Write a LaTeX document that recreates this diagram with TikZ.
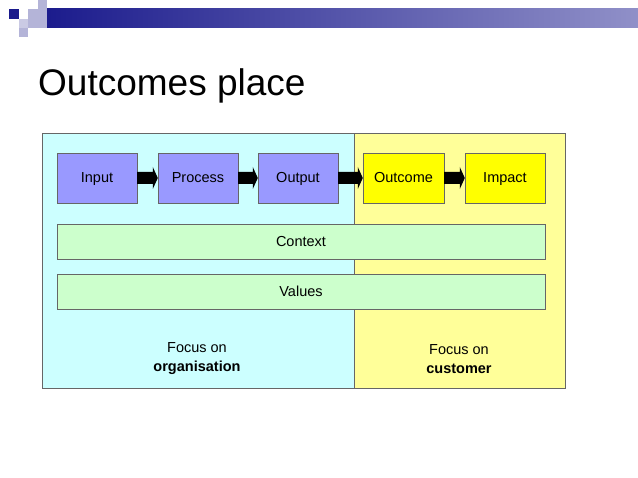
\documentclass[tikz,border=0pt]{standalone}
\usepackage{fontspec}
\setmainfont{Liberation Sans}
\definecolor{navy}{HTML}{1A1A8C}
\definecolor{lnavy}{HTML}{9090C8}
\definecolor{sq}{HTML}{B4B4D8}
\definecolor{lcyan}{HTML}{CCFFFF}
\definecolor{lyel}{HTML}{FFFF99}
\definecolor{blu}{HTML}{9999FF}
\definecolor{grn}{HTML}{CCFFCC}
\definecolor{yel}{HTML}{FFFF00}
\tikzset{
 box/.style={draw=black!60,minimum width=80pt,minimum height=50pt,font=\fontsize{14.5pt}{17pt}\selectfont,inner sep=0,text height=10.5pt,text depth=1pt},
 band/.style={draw=black!60,fill=grn,minimum width=488pt,minimum height=35pt,font=\fontsize{14.5pt}{17pt}\selectfont,inner sep=0,text height=10.5pt,text depth=1pt},
 lbl/.style={align=center,font=\fontsize{14.5pt}{19pt}\selectfont}
}
\begin{document}
\begin{tikzpicture}[x=1pt,y=-1pt]
\useasboundingbox (0,0) rectangle (638,478);
% header decoration
\shade[left color=navy,right color=lnavy,shading angle=90] (38,9) rectangle (638,28);
\fill[sq] (38,0) rectangle (47,9);
\fill[sq] (28,9) rectangle (47,28);
\fill[navy] (9,9) rectangle (19,19);
\fill[sq!70] (19,19) rectangle (28,28);
\fill[sq] (19,28) rectangle (28,37);
\node[anchor=base west,inner sep=0,font=\fontsize{37pt}{40pt}\selectfont] (title) at (38,96) {Outcomes place};
% panels
\draw[black!60,fill=lcyan] (42,133) rectangle (354,388);
\draw[black!60,fill=lyel] (354,133) rectangle (565,388);
\node[box,fill=blu] (in) at (97,178) {Input};
\node[box,fill=blu] (pr) at (198,178) {Process};
\node[box,fill=blu] (out) at (298,178) {Output};
\node[box,fill=yel,minimum width=81pt] (oc) at (403.5,178) {Outcome};
\node[box,fill=yel] (im) at (505,178) {Impact};
\foreach \a/\b in {in/pr,pr/out,out/oc,oc/im}{
  \fill[black] ([yshift=-6pt]\a.east) -- ([xshift=-5pt,yshift=-6pt]\b.west) -- ([xshift=-5pt,yshift=-11pt]\b.west) -- (\b.west) -- ([xshift=-5pt,yshift=11pt]\b.west) -- ([xshift=-5pt,yshift=6pt]\b.west) -- ([yshift=6pt]\a.east) -- cycle;
}
\node[band] (ctx) at (301,241.5) {Context};
\node[band] (val) at (301,291.5) {Values};
\node[lbl] (fl) at (197,359) {Focus on\\\textbf{organisation}};
\node[lbl] (fr) at (459,359) {Focus on\\\textbf{customer}};
\end{tikzpicture}
\end{document}
